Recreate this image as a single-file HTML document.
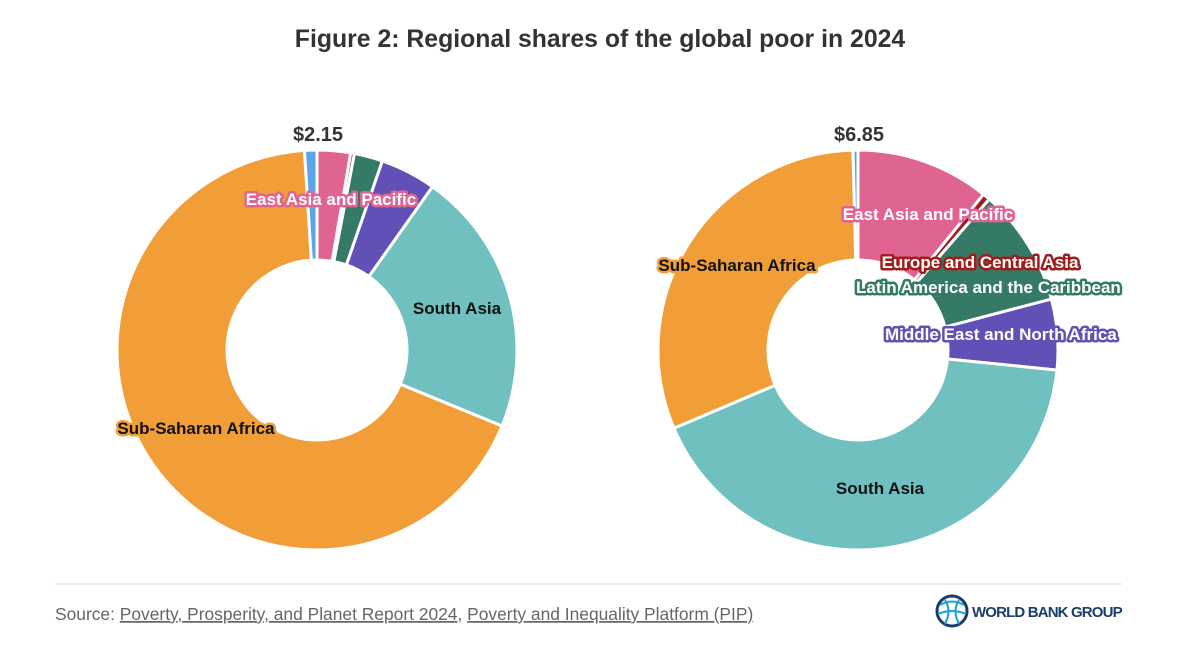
<!DOCTYPE html>
<html><head><meta charset="utf-8">
<style>
body{margin:0;background:#fff;width:1200px;height:663px;overflow:hidden;font-family:"Liberation Sans",sans-serif;}
#wrap{position:relative;width:1200px;height:663px;}
</style></head>
<body>
<div id="wrap">
<svg id="chart" width="1200" height="663" viewBox="0 0 1200 663">
  <defs><clipPath id="clipR"><rect x="0" y="0" width="1125" height="663"/></clipPath></defs>
  <text x="600" y="47" text-anchor="middle" font-size="24.8" font-weight="bold" fill="#333">Figure 2: Regional shares of the global poor in 2024</text>
  <g id="left"></g>
  <g id="right" clip-path="url(#clipR)"></g>
  <line x1="55" y1="584" x2="1122" y2="584" stroke="#ddd" stroke-width="1"/>
  <text x="55" y="620" font-size="17.4" fill="#666">Source: <tspan text-decoration="underline">Poverty, Prosperity, and Planet Report 2024</tspan>, <tspan text-decoration="underline">Poverty and Inequality Platform (PIP)</tspan></text>
  <g>
    <circle cx="952" cy="611" r="15" fill="none" stroke="#1a3d6b" stroke-width="3"/>
    <path d="M940 605 Q952 598 964 605 M938 614 Q952 608 966 614 M945 600 Q952 611 945 624 M959 600 Q952 611 959 624" fill="none" stroke="#1a9fd9" stroke-width="2"/>
    <text x="972" y="617" font-size="15" font-weight="bold" fill="#1a3d6b" letter-spacing="-0.6" textLength="150">WORLD BANK GROUP</text>
  </g>
</svg>
</div>
<script>
const regions = ["East Asia and Pacific","Europe and Central Asia","Latin America and the Caribbean","Middle East and North Africa","South Asia","Sub-Saharan Africa","Rest of the world"];
const colors = ["#e06491","#a11c1c","#357a67","#6150b5","#6fc0be","#f19e38","#5aa6e6"];
const shares215 = [2.7,0.3,2.3,4.5,21.4,67.8,1.0];
const shares685 = [10.8,0.6,9.5,5.7,42.0,31.0,0.4];
const NS="http://www.w3.org/2000/svg";
function pt(cx,cy,r,a){const t=a*Math.PI/180;return [cx+r*Math.sin(t),cy-r*Math.cos(t)];}
function arc(cx,cy,r0,r1,a0,a1){
  const [x0,y0]=pt(cx,cy,r1,a0),[x1,y1]=pt(cx,cy,r1,a1),[x2,y2]=pt(cx,cy,r0,a1),[x3,y3]=pt(cx,cy,r0,a0);
  const lg=(a1-a0)>180?1:0;
  return `M${x0} ${y0}A${r1} ${r1} 0 ${lg} 1 ${x1} ${y1}L${x2} ${y2}A${r0} ${r0} 0 ${lg} 0 ${x3} ${y3}Z`;
}
function donut(gid,cx,cy,vals){
  const g=document.getElementById(gid);
  const tot=vals.reduce((a,b)=>a+b,0);let a=0;
  vals.forEach((v,i)=>{
    const a1=a+v/tot*360;
    const p=document.createElementNS(NS,"path");
    p.setAttribute("d",arc(cx,cy,90,200,a,a1));
    p.setAttribute("fill",colors[i]);p.setAttribute("stroke","#fff");p.setAttribute("stroke-width","3");p.setAttribute("stroke-linejoin","round");
    
    
    g.appendChild(p);a=a1;
  });
}
donut("left",317,350,shares215);
donut("right",858,350,shares685);
function label(gid,x,y,txt,bg,fg,anchor,fs){
  const g=document.getElementById(gid);
  const t=document.createElementNS(NS,"text");
  t.setAttribute("x",x);t.setAttribute("y",y);t.setAttribute("text-anchor",anchor||"middle");
  t.setAttribute("font-size",fs||"17");t.setAttribute("font-weight","bold");t.setAttribute("fill",fg);
  if(bg){t.setAttribute("stroke",bg);t.setAttribute("stroke-width","5");t.setAttribute("paint-order","stroke");t.setAttribute("stroke-linejoin","round");}
  t.textContent=txt;
  
  
  g.appendChild(t);
}
label("left",318,141,"$2.15",null,"#333","middle","20");
label("left",331,205,"East Asia and Pacific","#e06491","#fff");
label("left",457,314,"South Asia",null,"#111");
label("left",196,434,"Sub-Saharan Africa","#f19e38","#111");
label("right",859,141,"$6.85",null,"#333","middle","20");
label("right",928,220,"East Asia and Pacific","#e06491","#fff");
label("right",737,271,"Sub-Saharan Africa","#f19e38","#111");
label("right",980,268,"Europe and Central Asia","#a11c1c","#fff");
label("right",856,293,"Latin America and the Caribbean","#357a67","#fff","start");
label("right",885,340,"Middle East and North Africa","#6150b5","#fff","start");
label("right",880,494,"South Asia",null,"#111");
</script>
</body></html>
